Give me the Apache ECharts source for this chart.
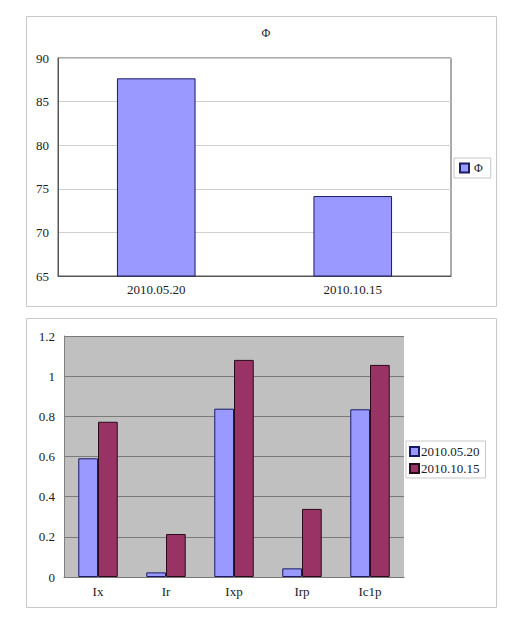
<!DOCTYPE html>
<html><head><meta charset="utf-8">
<script src="https://cdn.jsdelivr.net/npm/echarts@6/dist/echarts.min.js"></script>
<style>html,body{margin:0;padding:0;background:#fff}#c{width:511px;height:622px}</style>
</head><body><div id="c"></div>
<script>
const topCategories = ['2010.05.20', '2010.10.15'];
const topValues = [87.67, 74.17];
const topSeriesName = 'Φ';
const bottomCategories = ['Ix', 'Ir', 'Ixp', 'Irp', 'Ic1p'];
const seriesA = [0.591, 0.023, 0.838, 0.043, 0.835];
const seriesB = [0.773, 0.214, 1.081, 0.339, 1.056];
const seriesNames = ['2010.05.20', '2010.10.15'];

const FONT = '"Liberation Serif","DejaVu Serif",serif';
const chart = echarts.init(document.getElementById('c'), null, {renderer: 'svg'});
chart.setOption({
  animation: false,
  textStyle: {fontFamily: FONT},
  graphic: [
    {type: 'rect', shape: {x: 26.5, y: 16.5, width: 470, height: 290}, style: {fill: 'none', stroke: '#c8c8c8', lineWidth: 1}, z: -10},
    {type: 'rect', shape: {x: 26.5, y: 318.5, width: 470, height: 289}, style: {fill: 'none', stroke: '#c8c8c8', lineWidth: 1}, z: -10}
  ],
  title: [{text: topSeriesName, left: 261, top: 22, textAlign: 'center',
    textStyle: {fontFamily: FONT, fontSize: 12, fontWeight: 'normal', color: '#222'}}],
  legend: [
    {data: [topSeriesName], left: 454, top: 158, orient: 'vertical', itemWidth: 9, itemHeight: 9, itemGap: 4,
     padding: [4, 8, 4, 5], borderColor: '#c8c8c8', borderWidth: 1, icon: 'rect',
     textStyle: {fontFamily: FONT, fontSize: 12, color: '#222'}},
    {data: seriesNames, left: 406, top: 441, orient: 'vertical', itemWidth: 9, itemHeight: 9, itemGap: 4,
     padding: [4, 6, 3, 3], borderColor: '#c8c8c8', borderWidth: 1, icon: 'rect',
     textStyle: {fontFamily: FONT, fontSize: 13, color: '#222', padding: [0, 0, 0, -3]}}
  ],
  grid: [
    {left: 58, top: 58, width: 393, height: 218, show: true, backgroundColor: '#fff', borderColor: '#555', borderWidth: 1},
    {left: 64, top: 336, width: 340, height: 241, show: true, backgroundColor: '#c0c0c0', borderWidth: 0}
  ],
  xAxis: [
    {type: 'category', gridIndex: 0, data: topCategories,
     axisLine: {lineStyle: {color: '#555'}}, axisTick: {inside: true, length: 4, lineStyle: {color: '#777'}},
     axisLabel: {color: '#222', fontSize: 13, margin: 7, fontFamily: FONT}},
    {type: 'category', gridIndex: 1, data: bottomCategories,
     axisLine: {lineStyle: {color: '#777'}}, axisTick: {inside: true, length: 3, lineStyle: {color: '#999'}},
     axisLabel: {color: '#222', fontSize: 13, margin: 8, fontFamily: FONT}}
  ],
  yAxis: [
    {type: 'value', gridIndex: 0, min: 65, max: 90, interval: 5,
     axisLine: {show: true, lineStyle: {color: '#555'}}, axisTick: {show: false},
     splitLine: {lineStyle: {color: '#d0d0d0'}},
     axisLabel: {color: '#222', fontSize: 13, margin: 9, fontFamily: FONT}},
    {type: 'value', gridIndex: 1, min: 0, max: 1.2, interval: 0.2,
     axisLine: {show: true, lineStyle: {color: '#808080'}}, axisTick: {show: false},
     splitLine: {lineStyle: {color: '#7a7a7a'}},
     axisLabel: {color: '#222', fontSize: 13, margin: 9, fontFamily: FONT,
       formatter: v => String(+v.toFixed(1))}}
  ],
  series: [
    {name: topSeriesName, type: 'bar', xAxisIndex: 0, yAxisIndex: 0, data: topValues, barWidth: '40%',
     itemStyle: {color: '#9999ff', borderColor: '#1a1a66', borderWidth: 1}},
    {name: seriesNames[0], type: 'bar', xAxisIndex: 1, yAxisIndex: 1, data: seriesA, barGap: '0%', barCategoryGap: '42%',
     itemStyle: {color: '#9999ff', borderColor: '#1a1a66', borderWidth: 1}},
    {name: seriesNames[1], type: 'bar', xAxisIndex: 1, yAxisIndex: 1, data: seriesB, barGap: '0%', barCategoryGap: '42%',
     itemStyle: {color: '#993366', borderColor: '#2a0a1a', borderWidth: 1}}
  ]
});
</script></body></html>
